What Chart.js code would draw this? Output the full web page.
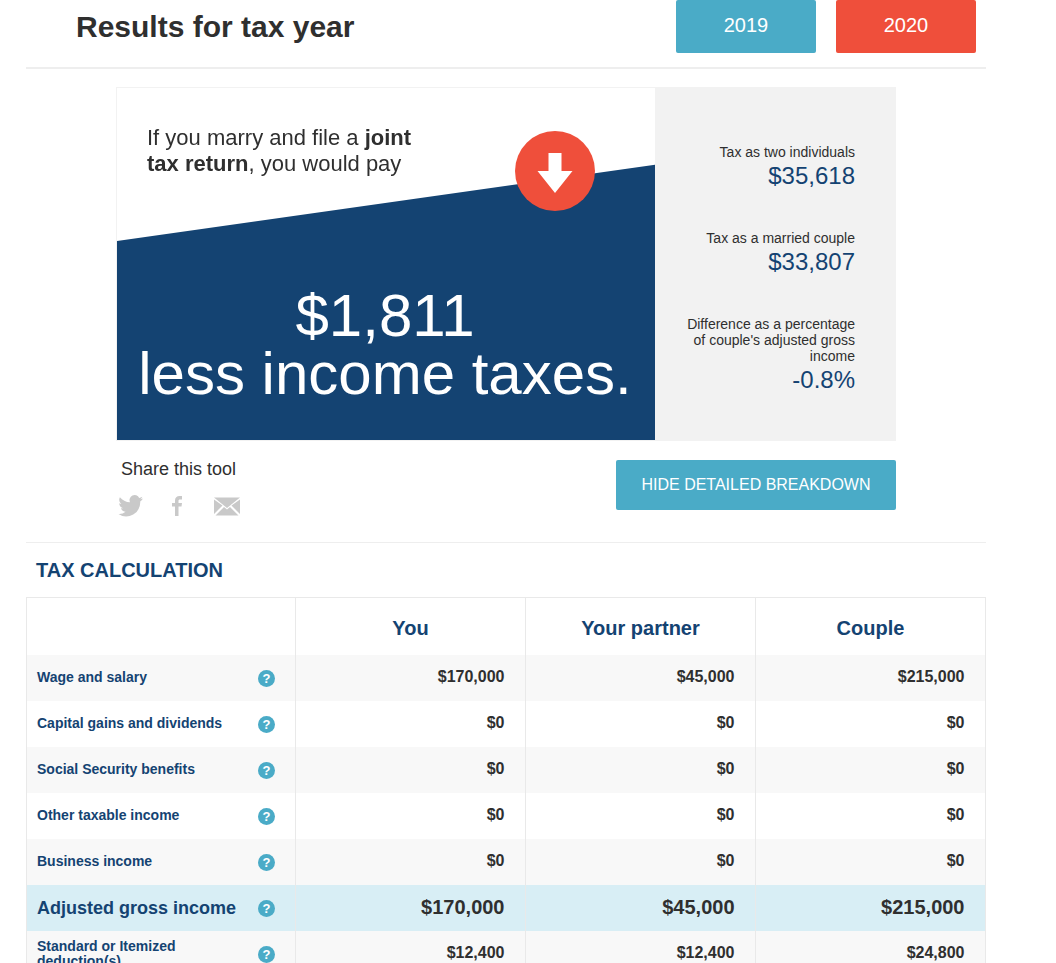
<!DOCTYPE html>
<html>
<head>
<meta charset="utf-8">
<title>Results for tax year</title>
<script src="https://cdn.jsdelivr.net/npm/chart.js@4"></script>
<style>
html, body { margin: 0; padding: 0; background: #fff; }
body { width: 1056px; height: 963px; overflow: hidden; position: relative; font-family: "Liberation Sans", Arial, sans-serif; color: #2f2f2f; }
.abs { position: absolute; white-space: nowrap; }
.btn { color: #fff; text-align: center; border-radius: 2px; }
.rule { position: absolute; left: 26px; width: 960px; background: #eee; }
.side { position: absolute; right: 201px; text-align: right; font-size: 14px; line-height: 16px; white-space: nowrap; }
.side b { display: block; font-weight: normal; font-size: 24px; line-height: 30px; margin-top: 1px; color: #144372; }
#wrap { position: absolute; left: 117px; top: 88px; width: 538px; height: 352px; }
#tbl { position: absolute; left: 26px; top: 597px; width: 959px; border-collapse: collapse; table-layout: fixed; }
#tbl td, #tbl th { border-left: 1px solid #e9e9e9; border-right: 1px solid #e9e9e9; padding: 0; }
#tbl th { height: 53px; padding-top: 4px; border-top: 1px solid #e9e9e9; font-size: 20px; color: #144372; text-align: center; }
#tbl td { height: 46px; font-weight: bold; font-size: 16px; text-align: right; padding: 0 20.5px 2px 0; box-sizing: border-box; }
#tbl td.lab { text-align: left; padding: 0 0 2px 10px; color: #144372; font-size: 14px; line-height: 15px; position: relative; }
#tbl tr.odd td { background: #f8f8f8; }
#tbl tr.big td { background: #d8eef5; font-size: 20px; }
#tbl tr.big td.lab { font-size: 18px; padding-bottom: 0; }
#tbl tr:last-child td.lab { padding-bottom: 0; }
.q { position: absolute; left: 231px; top: 50%; margin-top: -8.500px; width: 17px; height: 17px; border-radius: 50%; background: #4aabc7; color: #fff; font-size: 13px; line-height: 17px; text-align: center; }
</style>
</head>
<body>
<div class="abs" id="title" style="left:76px;top:9px;font-size:30px;line-height:36px;font-weight:bold"></div>
<div class="abs btn" id="y0" style="left:676px;top:0;width:140px;height:53px;line-height:51px;font-size:20px;background:#4aabc7"></div>
<div class="abs btn" id="y1" style="left:836px;top:0;width:140px;height:53px;line-height:51px;font-size:20px;background:#ef4f3b"></div>
<div class="rule" style="top:67px;height:2px"></div>

<div class="abs" style="left:116px;top:87px;width:778px;height:352px;border:1px solid #f2f2f2"></div>
<div class="abs" style="left:655px;top:88px;width:241px;height:352px;background:#f2f2f2"></div>
<div id="wrap"><canvas id="wedge"></canvas></div>

<div class="abs" style="left:147px;top:125px;font-size:22px;line-height:26px">If you marry and file a <b>joint</b><br><b>tax return</b>, you would pay</div>
<div class="abs" style="left:515px;top:131px;width:80px;height:80px;border-radius:50%;background:#ef4f3b"></div>
<svg class="abs" style="left:515px;top:131px" width="80" height="80"><path d="M33.500 22H46.500V40H57.500L40 62L22.500 40H33.500Z" fill="#fff"/></svg>
<div class="abs" id="headline" style="left:117px;top:287px;width:536px;text-align:center;color:#fff;font-size:60px;line-height:58px"></div>

<div class="side" style="top:144px"><span id="s0"></span><b id="v0"></b></div>
<div class="side" style="top:230px"><span id="s1"></span><b id="v1"></b></div>
<div class="side" style="top:316px"><span id="s2"></span><b id="v2"></b></div>

<div class="abs" style="left:121px;top:459px;font-size:18px;line-height:20px">Share this tool</div>
<svg class="abs" style="left:117px;top:494px" width="125" height="24" fill="#c9c9c9">
  <path d="M25 3.500c-1 .5-2 .7-2.800 .8 1-.6 1.800-1.500 2.100-2.600-1 .6-2 1-3.100 1.200A4.900 4.900 0 0 0 12 7.300C8 7.100 4.300 5.200 1.900 2.200c-1.300 2.200-.7 5.100 1.500 6.600-.8 0-1.600-.2-2.200-.6 0 2.400 1.700 4.500 4 5-.7.200-1.500.2-2.200.1.600 2 2.500 3.400 4.600 3.500A10 10 0 0 1 .5 19a14 14 0 0 0 21.700-12.500c1.100-.7 2-1.700 2.800-3z" transform="translate(1,1)"/>
  <path d="M58 22V12.500H55V9H58V6.500C58 3.500 59.800 2 62.500 2H65V5.500H63C61.800 5.500 61.500 6 61.500 7V9H65L64.500 12.500H61.500V22Z"/>
  <path d="M97 3.500H123L110 14ZM97 5.500V20L105.500 11.500ZM123 5.500V20L114.500 11.500ZM98.500 21.500H121.500L113 13L110 15.500L107 13Z"/>
</svg>
<div class="abs btn" id="hide" style="left:616px;top:460px;width:280px;height:50px;line-height:49px;font-size:16px;background:#4aabc7"></div>

<div class="rule" style="top:542px;height:1px"></div>
<div class="abs" id="section" style="left:36px;top:558px;font-size:20px;line-height:24px;font-weight:bold;color:#144372"></div>

<table id="tbl"><colgroup><col style="width:269px"><col style="width:230px"><col style="width:230px"><col style="width:230px"></colgroup><thead><tr id="head"></tr></thead><tbody id="rows"></tbody></table>

<script>
const titleText = 'Results for tax year';
const taxYears = ['2019', '2020'];
const headline = ['$1,811', 'less income taxes.'];
const sideLabels = ['Tax as two individuals', 'Tax as a married couple', "Difference as a percentage<br>of couple's adjusted gross<br>income"];
const sideValues = ['$35,618', '$33,807', '-0.8%'];

// share of the panel height covered by the blue wedge, left edge then right edge
const wedgeLabels = ['left', 'right'];
const wedgeValues = [56.5, 78.2];

const columns = ['', 'You', 'Your partner', 'Couple'];
const rowLabels = ['Wage and salary', 'Capital gains and dividends', 'Social Security benefits', 'Other taxable income', 'Business income', 'Adjusted gross income', 'Standard or Itemized deduction(s)'];
const youValues = ['$170,000', '$0', '$0', '$0', '$0', '$170,000', '$12,400'];
const partnerValues = ['$45,000', '$0', '$0', '$0', '$0', '$45,000', '$12,400'];
const coupleValues = ['$215,000', '$0', '$0', '$0', '$0', '$215,000', '$24,800'];

document.getElementById('title').textContent = titleText;
document.getElementById('y0').textContent = taxYears[0];
document.getElementById('y1').textContent = taxYears[1];
document.getElementById('headline').innerHTML = headline.join('<br>');
document.getElementById('hide').textContent = 'HIDE DETAILED BREAKDOWN';
document.getElementById('section').textContent = 'TAX CALCULATION';
sideLabels.forEach((s, i) => {
	document.getElementById('s' + i).innerHTML = s;
	document.getElementById('v' + i).textContent = sideValues[i];
});

document.getElementById('head').innerHTML = columns.map(c => `<th>${c}</th>`).join('');
document.getElementById('rows').innerHTML = rowLabels.map((label, i) => {
	let cls = i === 5 ? 'big' : (i % 2 === 0 ? 'odd' : '');
	return `<tr class="${cls}"><td class="lab">${label.replace('Itemized ', 'Itemized<br>')}<span class="q">?</span></td>` +
		`<td>${youValues[i]}</td><td>${partnerValues[i]}</td><td>${coupleValues[i]}</td></tr>`;
}).join('');

new Chart(document.getElementById('wedge'), {
	type: 'line',
	data: {
		labels: wedgeLabels,
		datasets: [{
			data: wedgeValues,
			fill: 'origin',
			backgroundColor: '#144372',
			borderWidth: 0,
			pointRadius: 0,
			tension: 0
		}]
	},
	options: {
		responsive: true,
		maintainAspectRatio: false,
		animation: false,
		layout: { padding: 0 },
		plugins: { legend: { display: false }, tooltip: { enabled: false } },
		scales: {
			x: { display: false, offset: false },
			y: { display: false, min: 0, max: 100 }
		}
	}
});
</script>
</body>
</html>
